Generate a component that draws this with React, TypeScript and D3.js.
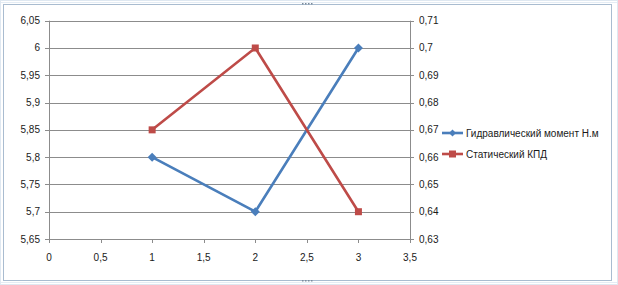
import React from "react";
import * as d3 from "d3";

const xValues = [1, 2, 3];
const seriesMoment = [5.8, 5.7, 6.0];
const seriesKpd = [0.67, 0.7, 0.64];
const seriesNames = ["Гидравлический момент Н.м", "Статический КПД"];
const xTicks = [0, 0.5, 1, 1.5, 2, 2.5, 3, 3.5];
const leftTicks = [5.65, 5.7, 5.75, 5.8, 5.85, 5.9, 5.95, 6, 6.05];
const rightTicks = [0.63, 0.64, 0.65, 0.66, 0.67, 0.68, 0.69, 0.7, 0.71];

const W = 618;
const H = 285;
const plot = { left: 49, right: 410, top: 20.7, bottom: 239 };
const BLUE = "#4a7ebb";
const RED = "#be4b48";
const GRID = "#8c8c8c";
const FONT = "'Liberation Sans', Arial, sans-serif";

const fmt = (v: number) => String(+v.toFixed(2)).replace(".", ",");

export default function App() {
  const x = d3.scaleLinear().domain([0, 3.5]).range([plot.left, plot.right]);
  const yL = d3.scaleLinear().domain([5.65, 6.05]).range([plot.bottom, plot.top]);
  const yR = d3.scaleLinear().domain([0.63, 0.71]).range([plot.bottom, plot.top]);

  const lineL = d3
    .line<number>()
    .x((_, i) => x(xValues[i]))
    .y((d) => yL(d));
  const lineR = d3
    .line<number>()
    .x((_, i) => x(xValues[i]))
    .y((d) => yR(d));

  const diamond = (cx: number, cy: number, r = 4.5) =>
    `M${cx},${cy - r}L${cx + r},${cy}L${cx},${cy + r}L${cx - r},${cy}Z`;

  const legendX = 442;
  const legendY = [133, 154];

  return (
    <div style={{ position: "absolute", left: 0, top: 0 }}>
      <svg width={W} height={H} style={{ display: "block" }}>
        <rect x={0} y={0} width={W} height={H} fill="#ffffff" />
        {/* sheet / frame */}
        <rect x={0.5} y={0.5} width={W - 1} height={H - 1} fill="none" stroke="#dfe8f1" />
        <rect x={3.5} y={4.5} width={608} height={276} fill="#ffffff" stroke="#a9bcd0" />
        <line x1={1} y1={2.5} x2={W - 1} y2={2.5} stroke="#e4ecf4" />
        <line x1={1} y1={282.5} x2={W - 1} y2={282.5} stroke="#e4ecf4" />
        {[0, 1, 2, 3].map((i) => (
          <rect key={"ht" + i} x={302 + i * 3} y={3} width={1.5} height={1.5} fill="#7a8a9a" />
        ))}
        {[0, 1, 2, 3].map((i) => (
          <rect key={"hb" + i} x={302 + i * 3} y={280} width={1.5} height={1.5} fill="#7a8a9a" />
        ))}

        {/* gridlines */}
        {leftTicks.map((t) => (
          <line
            key={"g" + t}
            x1={plot.left}
            x2={plot.right}
            y1={Math.round(yL(t)) + 0.5}
            y2={Math.round(yL(t)) + 0.5}
            stroke={GRID}
            strokeWidth={1}
          />
        ))}
        {/* axes */}
        <line x1={plot.left + 0.5} x2={plot.left + 0.5} y1={plot.top} y2={plot.bottom + 0.5} stroke={GRID} />
        <line x1={plot.right + 0.5} x2={plot.right + 0.5} y1={plot.top} y2={plot.bottom + 0.5} stroke={GRID} />
        <line x1={plot.left} x2={plot.right} y1={Math.round(plot.bottom) + 0.5} y2={Math.round(plot.bottom) + 0.5} stroke={GRID} />

        {/* left ticks */}
        {leftTicks.map((t) => (
          <g key={"lt" + t}>
            <line
              x1={plot.left - 4}
              x2={plot.left}
              y1={Math.round(yL(t)) + 0.5}
              y2={Math.round(yL(t)) + 0.5}
              stroke={GRID}
            />
            <text x={40} y={yL(t)} dy="0.35em" textAnchor="end" fontSize={10} fontFamily={FONT} fill="#1a1a1a">
              {fmt(t)}
            </text>
          </g>
        ))}
        {/* right ticks */}
        {rightTicks.map((t) => (
          <g key={"rt" + t}>
            <line
              x1={plot.right}
              x2={plot.right + 4}
              y1={Math.round(yR(t)) + 0.5}
              y2={Math.round(yR(t)) + 0.5}
              stroke={GRID}
            />
            <text x={419} y={yR(t)} dy="0.35em" textAnchor="start" fontSize={10} fontFamily={FONT} fill="#1a1a1a">
              {fmt(t)}
            </text>
          </g>
        ))}
        {/* x ticks */}
        {xTicks.map((t) => (
          <g key={"xt" + t}>
            <line
              x1={Math.round(x(t)) + 0.5}
              x2={Math.round(x(t)) + 0.5}
              y1={plot.bottom}
              y2={plot.bottom + 4}
              stroke={GRID}
            />
            <text x={x(t)} y={257} dy="0.35em" textAnchor="middle" fontSize={10} fontFamily={FONT} fill="#1a1a1a">
              {fmt(t)}
            </text>
          </g>
        ))}

        {/* series */}
        <path d={lineL(seriesMoment) || ""} fill="none" stroke={BLUE} strokeWidth={2.6} strokeLinejoin="round" />
        {seriesMoment.map((v, i) => (
          <path key={"m" + i} d={diamond(x(xValues[i]), yL(v))} fill={BLUE} />
        ))}
        <path d={lineR(seriesKpd) || ""} fill="none" stroke={RED} strokeWidth={2.6} strokeLinejoin="round" />
        {seriesKpd.map((v, i) => (
          <rect key={"k" + i} x={x(xValues[i]) - 3.5} y={yR(v) - 3.5} width={7} height={7} fill={RED} />
        ))}

        {/* legend */}
        <line x1={legendX} x2={legendX + 21} y1={legendY[0]} y2={legendY[0]} stroke={BLUE} strokeWidth={2.6} />
        <path d={diamond(legendX + 10.5, legendY[0], 3.5)} fill={BLUE} />
        <text x={466} y={legendY[0]} dy="0.35em" fontSize={10} fontFamily={FONT} fill="#1a1a1a">
          {seriesNames[0]}
        </text>
        <line x1={legendX} x2={legendX + 21} y1={legendY[1]} y2={legendY[1]} stroke={RED} strokeWidth={2.6} />
        <rect x={legendX + 7} y={legendY[1] - 3.5} width={7} height={7} fill={RED} />
        <text x={466} y={legendY[1]} dy="0.35em" fontSize={10} fontFamily={FONT} fill="#1a1a1a">
          {seriesNames[1]}
        </text>
      </svg>
    </div>
  );
}
